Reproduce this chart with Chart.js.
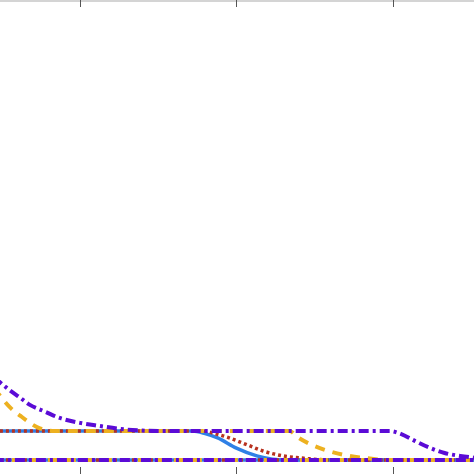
<!DOCTYPE html>
<html>
<head>
<meta charset="utf-8">
<script src="https://cdn.jsdelivr.net/npm/chart.js@4"></script>
<style>
  html, body { margin: 0; padding: 0; background: #fff; overflow: hidden; }
  canvas { display: block; }
</style>
</head>
<body>
<canvas id="chart" width="474" height="474"></canvas>
<script>
// x positions / y values
const tickValues = [1, 2, 3];

const purpleX = [0.45, 0.55, 0.62, 0.68, 0.78, 0.87, 1.0, 1.13, 1.26, 1.38, 1.5, 2.98, 3.05, 3.14, 3.24, 3.33, 3.43, 3.55];
const purpleY = [2.85, 2.41, 2.14, 1.9, 1.66, 1.45, 1.28, 1.17, 1.07, 1.02, 1, 1, 0.9, 0.66, 0.41, 0.24, 0.14, 0.06];

const yellowX = [0.45, 0.55, 0.62, 0.68, 0.74, 0.84, 2.34, 2.39, 2.47, 2.57, 2.69, 2.82, 2.98, 3.55];
const yellowY = [2.48, 1.83, 1.52, 1.28, 1.10, 1, 1, 0.79, 0.55, 0.34, 0.17, 0.07, 0, 0];

const blueX = [0.45, 1.72, 1.8, 1.88, 2.0, 2.13, 2.23, 2.34, 3.55];
const blueY = [1, 1, 0.91, 0.76, 0.41, 0.14, 0.03, 0, 0];

const redX = [0.45, 1.79, 1.86, 1.94, 2.07, 2.17, 2.3, 2.45, 2.6, 3.55];
const redY = [1, 1, 0.91, 0.79, 0.52, 0.31, 0.14, 0.05, 0, 0];

const baseX = [0.45, 3.55];
const baseY = [0, 0];

function pts(xs, ys) {
  return xs.map((x, i) => ({ x: x, y: ys[i] }));
}

const purple = '#5b0bd6';
const yellow = '#edb120';
const blue = '#2f80e6';
const red = '#b8321f';

function series(xs, ys, color, dash, width) {
  return {
    data: pts(xs, ys),
    borderColor: color,
    borderWidth: width,
    borderDash: dash,
    pointRadius: 0,
    fill: false,
    cubicInterpolationMode: 'monotone'
  };
}

const boxPlugin = {
  id: 'box',
  afterDraw(chart) {
    const ctx = chart.ctx;
    const xs = chart.scales.x;
    ctx.save();
    ctx.strokeStyle = '#d4d4d4';
    ctx.lineWidth = 2;
    ctx.beginPath();
    ctx.moveTo(0, 1);
    ctx.lineTo(474, 1);
    ctx.stroke();
    ctx.strokeStyle = '#555';
    ctx.lineWidth = 1;
    tickValues.forEach(v => {
      const px = Math.round(xs.getPixelForValue(v)) + 0.5;
      ctx.beginPath();
      ctx.moveTo(px, 0);
      ctx.lineTo(px, 7);
      ctx.moveTo(px, 467);
      ctx.lineTo(px, 474);
      ctx.stroke();
    });
    ctx.restore();
  }
};

new Chart(document.getElementById('chart'), {
  type: 'line',
  data: {
    datasets: [
      series(purpleX, purpleY, purple, [10, 4, 3, 4], 4),
      series(baseX, baseY, purple, [10, 4, 3, 4], 4),
      series(yellowX, yellowY, yellow, [10, 8], 4),
      series(baseX, baseY, yellow, [10, 8], 4),
      series(redX, redY, red, [3, 3], 3.5),
      series(baseX, baseY, red, [3, 3], 3.5),
      series(blueX, blueY, blue, [], 3.5),
      series(baseX, baseY, blue, [], 3.5)
    ]
  },
  options: {
    responsive: false,
    animation: false,
    layout: { padding: 0 },
    plugins: { legend: { display: false }, tooltip: { enabled: false } },
    scales: {
      x: { type: 'linear', min: 0.489, max: 3.518, display: false },
      y: { min: -0.4828, max: 15.862, display: false }
    }
  },
  plugins: [boxPlugin]
});
</script>
</body>
</html>
